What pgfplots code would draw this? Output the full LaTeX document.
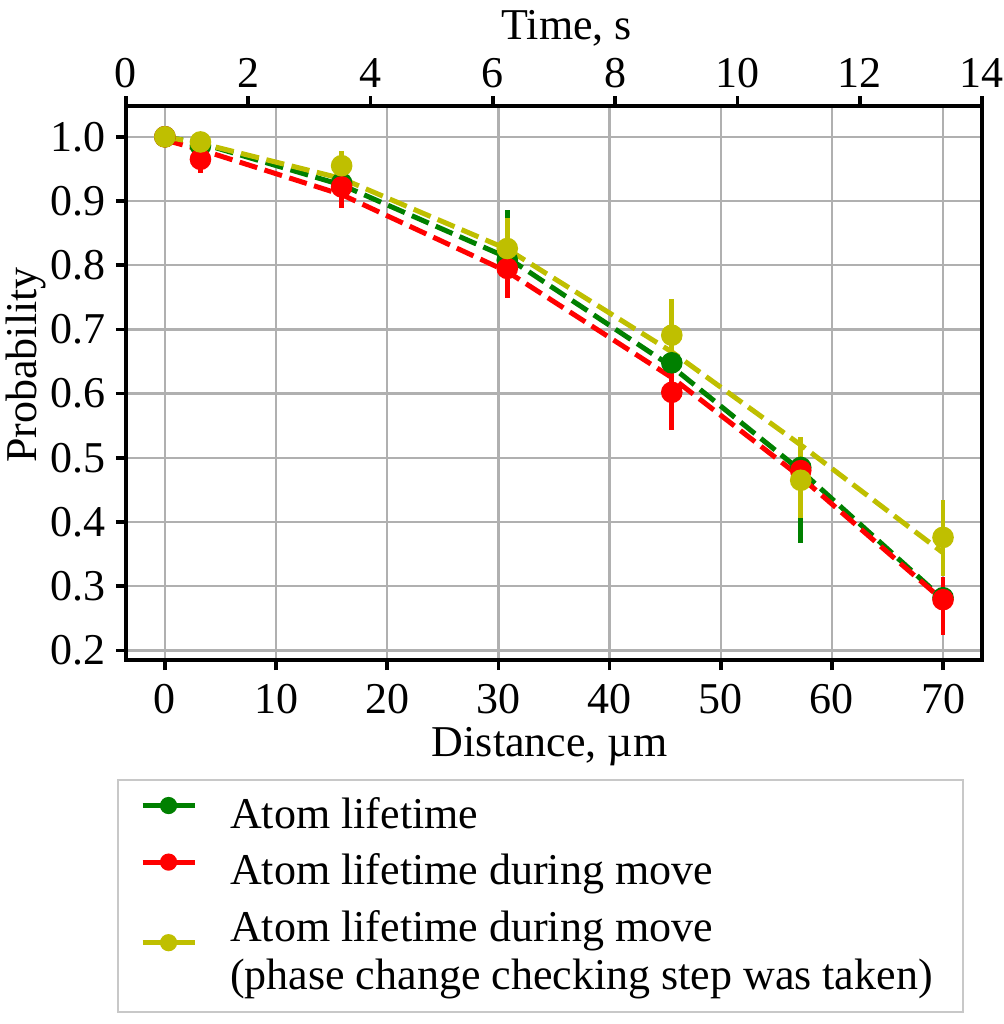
\documentclass[border=0pt]{standalone}
\usepackage{fontspec}
\setmainfont{Liberation Serif}
\usepackage{pgfplots}
\usepackage{pgfplotstable}
\pgfplotsset{compat=1.18}

\definecolor{mplgreen}{rgb}{0,0.5,0}
\definecolor{mplred}{rgb}{1,0,0}
\definecolor{mplyellow}{rgb}{0.75,0.75,0}
\definecolor{gridgray}{HTML}{B0B0B0}
\definecolor{framegray}{HTML}{C8C8C8}

% measured survival probability, upper (ep) and lower (em) errors
\pgfplotstableread{
x    y     ep    em
0    1.000 0.000 0.000
3.2  0.986 0.010 0.010
15.9 0.928 0.020 0.020
30.8 0.808 0.078 0.050
45.6 0.648 0.040 0.040
57.2 0.485 0.040 0.118
70.0 0.282 0.030 0.030
}\lifetime

\pgfplotstableread{
x    y     ep    em
0    1.000 0.000 0.000
3.2  0.965 0.021 0.021
15.9 0.922 0.033 0.033
30.8 0.795 0.046 0.046
45.6 0.602 0.060 0.059
57.2 0.480 0.030 0.030
70.0 0.279 0.036 0.055
}\lifemove

\pgfplotstableread{
x    y     ep    em
0    1.000 0.000 0.000
3.2  0.992 0.010 0.010
15.9 0.955 0.023 0.023
30.8 0.826 0.047 0.047
45.6 0.691 0.056 0.057
57.2 0.465 0.067 0.059
70.0 0.376 0.058 0.060
}\lifecheck

% model curves evaluated at the measured distances
\pgfplotstableread{
x    g     r     yl
0    1.000 0.995 1.000
3.2  0.990 0.980 0.990
15.9 0.925 0.910 0.935
30.8 0.812 0.790 0.825
45.6 0.642 0.625 0.665
57.2 0.480 0.470 0.520
70.0 0.280 0.278 0.352
}\fits

\tikzset{labelfont/.style={font=\fontsize{11}{12}\selectfont}}

\pgfplotsset{
  fitline/.style={line width=1.25pt, dash pattern=on 4.6pt off 1.9pt, forget plot},
  pts/.style={only marks, mark=*, mark size=2.5pt,
    error bars/.cd, y dir=both, y explicit,
    error bar style={line width=1.2pt, solid}, error mark=none},
  dotline/.style={legend image code/.code={
    \path[draw=none, fill=none] (0pt,0pt) rectangle (19.9pt,0.5em);
    \draw[line width=1.25pt, solid] (0pt,0.25em) -- (13pt,0.25em);
    \fill (6.5pt,0.25em) circle (1.9pt);}},
}

\begin{document}
\begin{tikzpicture}
\begin{axis}[
  name=main,
  scale only axis, width=214pt, height=138.5pt,
  xmin=-3.5, xmax=73.5, ymin=0.185, ymax=1.048,
  xtick={0,10,20,30,40,50,60,70},
  ytick={0.2,0.3,0.4,0.5,0.6,0.7,0.8,0.9,1.0},
  xtick pos=lower, ytick pos=lower,
  tick align=outside, major tick length=2.5pt,
  tick style={line width=0.9pt, black},
  axis line style={line width=1pt},
  grid=major, grid style={gridgray, line width=0.6pt},
  /pgf/number format/assume math mode=true,
  yticklabel style={xshift=1pt, /pgf/number format/.cd, fixed, fixed zerofill, precision=1},
  ticklabel style={labelfont},
  xlabel={Distance, µm}, ylabel={Probability},
  xlabel style={labelfont, at={(axis description cs:0.495,-0.1733)}, anchor=base},
  ylabel style={labelfont, at={(axis description cs:-0.1051,0.5325)}, anchor=base},
  legend style={at={(axis description cs:-0.0109,-0.2152)}, anchor=north west,
    draw=framegray, line width=0.5pt, labelfont,
    inner xsep=5.6pt, inner ysep=2.2pt, row sep=0.9pt,
    cells={anchor=base west, align=left}},
  legend cell align=left,
]
\addplot[mplgreen, fitline] table[x=x, y=g] {\fits};
\addplot[mplgreen, dotline, pts] table[x=x, y=y, y error plus=ep, y error minus=em] {\lifetime};
\addlegendentry{Atom lifetime}
\addplot[mplred, fitline] table[x=x, y=r] {\fits};
\addplot[mplred, dotline, pts] table[x=x, y=y, y error plus=ep, y error minus=em] {\lifemove};
\addlegendentry{Atom lifetime during move}
\addplot[mplyellow, fitline] table[x=x, y=yl] {\fits};
\addplot[mplyellow, dotline, pts] table[x=x, y=y, y error plus=ep, y error minus=em] {\lifecheck};
\addlegendentry{Atom lifetime during move\\(phase change checking step was taken)\rule[-7pt]{0pt}{7pt}}
\end{axis}
\begin{axis}[
  scale only axis, width=214pt, height=138.5pt,
  xmin=0, xmax=14, ymin=0, ymax=1,
  axis x line*=top, axis y line=none,
  axis line style={-, line width=1pt},
  xtick={0,2,4,6,8,10,12,14},
  tick align=outside, major tick length=2.5pt,
  tick style={line width=0.9pt, black},
  /pgf/number format/assume math mode=true,
  xticklabel style={labelfont, yshift=-1.5pt},
  xlabel={Time, s},
  xlabel style={labelfont, at={(axis description cs:0.515,1.1209)}, anchor=base},
]
\addplot[draw=none, forget plot] coordinates {(0,0) (14,1)};
\end{axis}
\pgfresetboundingbox
\path[use as bounding box] ([xshift=-31.5pt, yshift=-91pt]main.south west)
  rectangle ([xshift=5.5pt, yshift=26.5pt]main.north east);
\end{tikzpicture}
\end{document}
